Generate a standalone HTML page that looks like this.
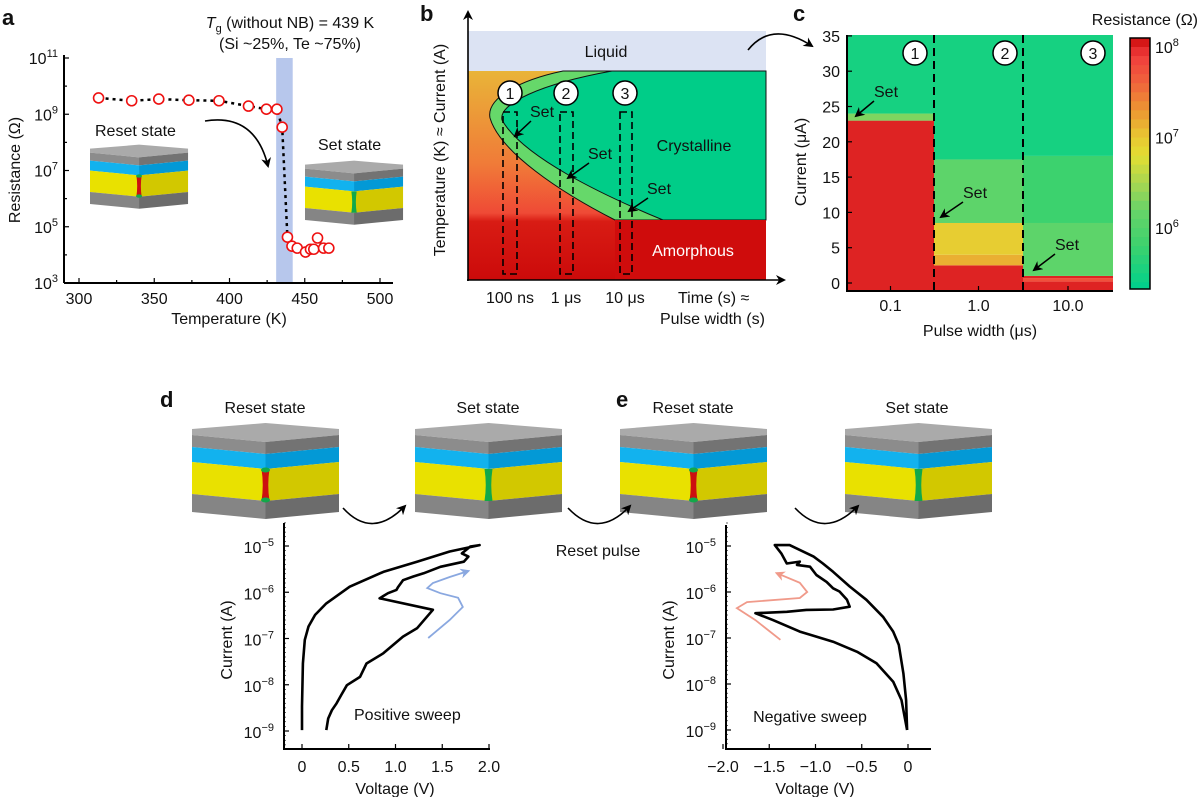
<!DOCTYPE html>
<html><head><meta charset="utf-8"><style>
html,body{margin:0;padding:0;background:#fff;}
svg{display:block;font-family:"Liberation Sans",Arial,sans-serif;}
</style></head><body>
<svg id="fig" width="1200" height="797" viewBox="0 0 1200 797" xmlns="http://www.w3.org/2000/svg">
<defs>
<marker id="ah" markerWidth="10" markerHeight="10" refX="8" refY="5" orient="auto" markerUnits="userSpaceOnUse"><path d="M0,0 L10,5 L0,10 L3,5Z" fill="#000"/></marker>
<marker id="ahb" markerWidth="10" markerHeight="10" refX="8" refY="5" orient="auto" markerUnits="userSpaceOnUse"><path d="M0,0 L10,5 L0,10 L3,5Z" fill="#8aa8e0"/></marker>
<marker id="ahp" markerWidth="10" markerHeight="10" refX="8" refY="5" orient="auto" markerUnits="userSpaceOnUse"><path d="M0,0 L10,5 L0,10 L3,5Z" fill="#f09a8a"/></marker>
<linearGradient id="gradB" x1="0" y1="71" x2="0" y2="280" gradientUnits="userSpaceOnUse">
<stop offset="0" stop-color="#e9b438"/><stop offset="0.45" stop-color="#f07a38"/><stop offset="0.68" stop-color="#ef4a36"/><stop offset="0.72" stop-color="#d81c14"/><stop offset="1" stop-color="#cc0a0a"/>
</linearGradient>
</defs>
</svg>
<script>
// ---------- data ----------
const aTemps=[313,335,353,373,393,412.6,424.5,431.5,435,438.5,441.5,445,450.5,453.8,456,458.5,462.5,466];
const aLogR=[9.58,9.48,9.54,9.5,9.48,9.29,9.18,9.18,8.54,4.63,4.31,4.24,4.1,4.2,4.2,4.6,4.24,4.24];
const aXTicks=[300,350,400,450,500];
const aYTicks=[3,5,7,9,11];

const cCats=['0.1','1.0','10.0'];
const cYTicks=[0,5,10,15,20,25,30,35];
// segments per column: [lowCurrent, highCurrent, log10 resistance]
const cSeg1=[[-1.1,23,8.0],[23,24,6.3],[24,35.3,5.5]];
const cSeg2=[[-1.1,2.5,8.0],[2.5,4,7.15],[4,8.5,6.95],[8.5,17.5,6.1],[17.5,35.3,5.5]];
const cSeg3=[[-1.1,0.2,8.0],[0.2,0.7,7.75],[0.7,1,8.0],[1,8.5,6.1],[8.5,18,5.8],[18,35.3,5.5]];
const cbTicks=[8,7,6];

const dV=[0,0,0.01,0.03,0.07,0.14,0.26,0.51,0.87,1.23,1.58,1.90,1.80,1.71,1.78,1.73,1.48,1.30,1.19,1.08,1.03,1.01,0.92,0.83,1.40,1.23,1.08,0.87,0.69,0.62,0.48,0.42,0.37,0.32,0.28,0.26];
const dLogI=[-8.98,-8.47,-7.54,-7.03,-6.74,-6.49,-6.24,-5.88,-5.56,-5.34,-5.12,-4.98,-5.01,-5.16,-5.23,-5.34,-5.45,-5.59,-5.66,-5.74,-5.88,-5.95,-6.02,-6.13,-6.38,-6.78,-6.96,-7.32,-7.54,-7.83,-8.01,-8.22,-8.40,-8.55,-8.73,-8.98];
const dArrowV=[1.35,1.58,1.72,1.67,1.48,1.34,1.40,1.58,1.78];
const dArrowI=[-6.99,-6.60,-6.32,-6.12,-6.02,-5.91,-5.80,-5.67,-5.54];
const dXTicks=[0,0.5,1.0,1.5,2.0];
const dXLabels=['0','0.5','1.0','1.5','2.0'];
const ivYTicks=[-5,-6,-7,-8,-9];

const eV=[-0.01,-0.02,-0.05,-0.10,-0.16,-0.27,-0.45,-0.63,-0.81,-0.92,-1.02,-1.28,-1.44,-1.37,-1.31,-1.17,-1.20,-1.06,-0.99,-0.88,-0.81,-0.74,-0.66,-0.63,-0.81,-1.10,-1.31,-1.65,-1.46,-1.17,-0.81,-0.55,-0.34,-0.16,-0.07,-0.01];
const eLogI=[-9.0,-8.35,-7.77,-7.15,-6.86,-6.54,-6.17,-5.88,-5.56,-5.38,-5.23,-4.98,-4.98,-5.16,-5.38,-5.34,-5.41,-5.45,-5.63,-5.78,-5.92,-5.99,-6.17,-6.32,-6.38,-6.39,-6.43,-6.46,-6.61,-6.86,-7.08,-7.30,-7.55,-7.95,-8.35,-9.0];
const eArrowV=[-1.38,-1.65,-1.85,-1.74,-1.17,-1.09,-1.17,-1.42];
const eArrowI=[-7.04,-6.61,-6.35,-6.22,-6.13,-6.0,-5.80,-5.59];
const eXTicks=[-2.0,-1.5,-1.0,-0.5,0];
const eXLabels=['\u22122.0','\u22121.5','\u22121.0','\u22120.5','0'];

// ---------- helpers ----------
const NS='http://www.w3.org/2000/svg';
const svg=document.getElementById('fig');
function el(tag,attrs,name,parent){
  const e=document.createElementNS(NS,tag);
  for(const k in attrs) e.setAttribute(k,attrs[k]);
  
  
  (parent||svg).appendChild(e);
  return e;
}
function txt(x,y,html,size,anchor,name,extra){
  const t=el('text',Object.assign({x:x,y:y,'font-size':size,'text-anchor':anchor||'start',fill:'#111'},extra||{}),name);
  t.innerHTML=html;
  return t;
}
function line(x1,y1,x2,y2,name,w,extra){
  return el('line',Object.assign({x1:x1,y1:y1,x2:x2,y2:y2,stroke:'#000','stroke-width':w||1.5},extra||{}),name);
}
function pathFrom(xs,ys,fx,fy){
  let d='';
  for(let i=0;i<xs.length;i++) d+=(i?'L':'M')+fx(xs[i]).toFixed(1)+','+fy(ys[i]).toFixed(1);
  return d;
}
function pow(base,exp){return base+'<tspan dy="-7" font-size="11">'+exp+'</tspan>';}

// device block
function device(x0,y0,s,state,name){
  const g=el('g',{transform:'translate('+x0+','+y0+') scale('+s+')'},name);
  const W=147,M=73.5,D=7;
  const b=[10,22,37,69,87];
  const lc=['#8c8c8c','#12b2ee','#e9e100','#858585'];
  const rc=['#737373','#0399d6','#d2c800','#6c6c6c'];
  el('polygon',{points:'0,10 '+M+','+(10+D)+' '+W+',10 '+W+',4 '+M+',-2 0,4',fill:'#aaaaaa'},'device-top-face',g);
  for(let i=0;i<4;i++){
    el('polygon',{points:'0,'+b[i]+' '+M+','+(b[i]+D)+' '+M+','+(b[i+1]+D)+' 0,'+b[i+1],fill:lc[i]},'device-layer-left',g);
    el('polygon',{points:M+','+(b[i]+D)+' '+W+','+b[i]+' '+W+','+b[i+1]+' '+M+','+(b[i+1]+D),fill:rc[i]},'device-layer-right',g);
  }
  const t=b[2]+D,bt=b[3]+D;
  const col=state==='reset'?'#cc1010':'#12a84a';
  el('path',{d:'M'+(M-4)+','+t+' Q'+(M-1.5)+','+((t+bt)/2)+' '+(M-4)+','+bt+' L'+(M+4)+','+bt+' Q'+(M+1.5)+','+((t+bt)/2)+' '+(M+4)+','+t+'Z',fill:col},'filament',g);
  if(state==='reset'){
    el('ellipse',{cx:M,cy:t+1,rx:4.5,ry:2.5,fill:'#12a84a'},'filament-cap-top',g);
    el('ellipse',{cx:M,cy:bt-1,rx:4.5,ry:2.5,fill:'#12a84a'},'filament-cap-bottom',g);
  }
  return g;
}

// ---------- panel letters ----------
txt(2,25,'a',22,'start','panel-label-a',{'font-weight':'bold'});
txt(420,21,'b',22,'start','panel-label-b',{'font-weight':'bold'});
txt(793,21,'c',22,'start','panel-label-c',{'font-weight':'bold'});
txt(160,407,'d',22,'start','panel-label-d',{'font-weight':'bold'});
txt(616,407,'e',22,'start','panel-label-e',{'font-weight':'bold'});

// ---------- panel a ----------
const xA=T=>79+(T-300)*301/200;
const yA=l=>283-(l-3)*28.125;
el('rect',{x:xA(431),y:58,width:xA(442)-xA(431),height:225,fill:'#b7c7ec'},'tg-band');
line(64,55,64,283,'a-y-axis',2);
line(64,283,393,283,'a-x-axis',2);
for(let l=3;l<=11;l++){ line(64,yA(l),64+(l%2?5:3),yA(l),'a-y-tick',1.2); }
aYTicks.forEach(l=>txt(58,yA(l)+6,pow('10',l),16,'end','a-y-tick-label'));
for(let T=300;T<=500;T+=25){ line(xA(T),283,xA(T),283-(T%50?3:5),'a-x-tick',1.2); }
aXTicks.forEach(T=>txt(xA(T),304,String(T),16,'middle','a-x-tick-label'));
txt(229,324,'Temperature (K)',16,'middle','a-x-axis-title');
txt(20,170,'Resistance (\u03a9)',16,'middle','a-y-axis-title',{transform:'rotate(-90 20 170)'});
el('path',{d:pathFrom(aTemps,aLogR,xA,yA),fill:'none',stroke:'#000','stroke-width':2.5,'stroke-dasharray':'3,4'},'a-dotted-line');
aTemps.forEach((T,i)=>{
  el('circle',{cx:xA(T),cy:yA(aLogR[i]),r:5,fill:'#fff',stroke:'#ee1111','stroke-width':1.6},'a-data-point');
});
txt(290,28,'<tspan font-style="italic">T</tspan><tspan dy="4" font-size="11">g</tspan><tspan dy="-4"> (without NB) = 439 K</tspan>',16,'middle','a-title-line1');
txt(290,49,'(Si ~25%, Te ~75%)',16,'middle','a-title-line2');
txt(95,136,'Reset state',16,'start','a-reset-label');
txt(318,150,'Set state',16,'start','a-set-label');
device(90,146,0.667,'reset','a-reset-device');
device(305,162,0.667,'set','a-set-device');
el('path',{d:'M205,121 Q255,113 268,166',fill:'none',stroke:'#000','stroke-width':1.6,'marker-end':'url(#ah)'},'a-transition-arrow');

// ---------- panel b ----------
el('rect',{x:468,y:31,width:298,height:40,fill:'#dce3f3'},'b-liquid-region');
el('rect',{x:468,y:71,width:298,height:209,fill:'url(#gradB)'},'b-amorphous-gradient');
el('path',{d:'M563,71 L766,71 L766,220 L615,220 C560,192 500,152 490,118 C486,98 520,80 563,71Z',fill:'#66d86a',stroke:'#111','stroke-width':1},'b-set-band');
el('path',{d:'M612,71 L766,71 L766,220 L663,220 C600,194 522,156 502,120 C498,104 540,84 612,71Z',fill:'#00cd88',stroke:'#111','stroke-width':1},'b-crystalline-region');
el('rect',{x:615,y:220,width:151,height:60,fill:'#cf0c0c'},'b-amorphous-region');
txt(606,57,'Liquid',16,'middle','b-liquid-label');
txt(694,151,'Crystalline',16,'middle','b-crystalline-label');
txt(693,256,'Amorphous',16,'middle','b-amorphous-label',{fill:'#fff'});
[[503,14],[560,13],[620,12]].forEach((r,i)=>{
  el('rect',{x:r[0],y:112,width:r[1],height:162,fill:'none',stroke:'#000','stroke-width':1.6,'stroke-dasharray':'7,4'},'b-pulse-box-'+(i+1));
});
[[510,93],[566,93],[625,93]].forEach((c,i)=>{
  el('circle',{cx:c[0],cy:c[1],r:12,fill:'#fff',stroke:'#000','stroke-width':1.5},'b-condition-marker-'+(i+1));
  txt(c[0],c[1]+6,String(i+1),16,'middle','b-condition-number');
});
[[528,121,515,136],[586,163,568,178],[645,198,629,211]].forEach(a=>{
  txt(a[0]+2,a[1]-4,'Set',16,'start','b-set-label');
  el('line',{x1:a[0]+3,y1:a[1],x2:a[2],y2:a[3],stroke:'#000','stroke-width':1.5,'marker-end':'url(#ah)'},'b-set-arrow');
});
el('line',{x1:468,y1:281,x2:468,y2:12,stroke:'#000','stroke-width':1.6,'marker-end':'url(#ah)'},'b-y-axis');
el('line',{x1:467,y1:280,x2:784,y2:280,stroke:'#000','stroke-width':1.6,'marker-end':'url(#ah)'},'b-x-axis');
txt(510,303,'100 ns',16,'middle','b-tick-100ns');
txt(566,303,'1 \u03bcs',16,'middle','b-tick-1us');
txt(625,303,'10 \u03bcs',16,'middle','b-tick-10us');
txt(678,303,'Time (s) \u2248',16,'start','b-x-title-1');
txt(660,324,'Pulse width (s)',16,'start','b-x-title-2');
txt(445,150,'Temperature (K) \u2248 Current (A)',16,'middle','b-y-axis-title',{transform:'rotate(-90 445 150)'});
el('path',{d:'M748,50 Q772,20 812,46',fill:'none',stroke:'#000','stroke-width':1.6,'marker-end':'url(#ah)'},'b-to-c-arrow');

// ---------- panel c ----------
const yC=v=>283-v*7.06;
const colW=[87,89,90];
const colX=[847,934,1023];
const cbStops=[[8.1,[204,10,10]],[7.9,[240,60,60]],[7.6,[240,100,60]],[7.3,[236,150,50]],[7.0,[232,200,50]],[6.8,[226,222,50]],[6.5,[170,214,80]],[6.2,[104,212,104]],[5.8,[60,210,110]],[5.33,[0,208,140]]];
function cmap(l){
  if(l>=cbStops[0][0]) return 'rgb('+cbStops[0][1]+')';
  for(let i=0;i<cbStops.length-1;i++){
    const a=cbStops[i],b=cbStops[i+1];
    if(l<=a[0]&&l>=b[0]){const t=(a[0]-l)/(a[0]-b[0]);return 'rgb('+a[1].map((v,k)=>Math.round(v+(b[1][k]-v)*t)).join(',')+')';}
  }
  return 'rgb('+cbStops[cbStops.length-1][1]+')';
}
[cSeg1,cSeg2,cSeg3].forEach((segs,ci)=>{
  segs.forEach(s=>{
    const y1=Math.max(35,yC(s[1])),y2=Math.min(291,yC(s[0]));
    el('rect',{x:colX[ci],y:y1,width:colW[ci],height:y2-y1,fill:cmap(s[2])},'c-heatmap-cell');
  });
});
line(934,35,934,291,'c-divider-1',2,{'stroke-dasharray':'8,5'});
line(1023,35,1023,291,'c-divider-2',2,{'stroke-dasharray':'8,5'});
line(847,35,847,292,'c-y-axis',2);
line(846,291,1113,291,'c-x-axis',2);
cYTicks.forEach(v=>{line(847,yC(v),852,yC(v),'c-y-tick',1.2);txt(840,yC(v)+6,String(v),16,'end','c-y-tick-label');});
cCats.forEach((c,i)=>{const x=colX[i]+colW[i]/2;line(x,291,x,286,'c-x-tick',1.2);txt(x,311,c,16,'middle','c-x-tick-label');});
txt(980,336,'Pulse width (\u03bcs)',16,'middle','c-x-axis-title');
txt(806,162,'Current (\u03bcA)',16,'middle','c-y-axis-title',{transform:'rotate(-90 806 162)'});
[[915,53],[1005,53],[1093,53]].forEach((c,i)=>{
  el('circle',{cx:c[0],cy:c[1],r:12,fill:'#fff',stroke:'#000','stroke-width':1.5},'c-condition-marker-'+(i+1));
  txt(c[0],c[1]+6,String(i+1),16,'middle','c-condition-number');
});
[[872,100,856,116],[961,201,941,217],[1053,253,1034,270]].forEach(a=>{
  txt(a[0]+2,a[1]-3,'Set',16,'start','c-set-label');
  el('line',{x1:a[0]+2,y1:a[1]+1,x2:a[2],y2:a[3],stroke:'#000','stroke-width':1.5,'marker-end':'url(#ah)'},'c-set-arrow');
});
// colorbar
const yCB=l=>47+(8-l)*90.5;
for(let l=8.1;l>5.33;l-=0.1){
  const y1=Math.max(38,yCB(l)),y2=Math.min(289,yCB(l-0.1)+0.6);
  el('rect',{x:1130,y:y1,width:20,height:y2-y1,fill:cmap(l-0.05)},'colorbar-band');
}
el('rect',{x:1130,y:38,width:20,height:251,fill:'none',stroke:'#000','stroke-width':1.5},'colorbar-frame');
cbTicks.forEach(l=>txt(1155,yCB(l)+6,pow('10',l),16,'start','colorbar-tick-label'));
txt(1198,25,'Resistance (\u03a9)',16,'end','colorbar-title');

// ---------- devices d/e ----------
txt(265,413,'Reset state',16,'middle','d-reset-label');
txt(488,413,'Set state',16,'middle','d-set-label');
txt(693,413,'Reset state',16,'middle','e-reset-label');
txt(917,413,'Set state',16,'middle','e-set-label');
device(192,425,1,'reset','d-reset-device');
device(415,425,1,'set','d-set-device');
device(620,425,1,'reset','e-reset-device');
device(845,425,1,'set','e-set-device');
[['M343,508 Q372,540 405,506','d-transition-arrow'],['M568,508 Q598,540 630,506','reset-pulse-arrow'],['M795,508 Q825,540 858,506','e-transition-arrow']].forEach(a=>{
  el('path',{d:a[0],fill:'none',stroke:'#000','stroke-width':1.6,'marker-end':'url(#ah)'},a[1]);
});
txt(598,556,'Reset pulse',16,'middle','reset-pulse-label');

// ---------- panel d ----------
const xD=v=>302+v*93.5;
const yD=l=>546-(l+5)*46.25;
line(284,523,284,750,'d-y-axis',2);
line(283,749,490,749,'d-x-axis',2);
for(let l=-9.3;l<=-4.5;l+=0.1){line(284,yD(l),286,yD(l),'d-y-minor-tick',0.6);}
ivYTicks.forEach(l=>{line(284,yD(l),289,yD(l),'d-y-tick',1.2);txt(274,yD(l)+7,pow('10','\u2212'+(-l)),16,'end','d-y-tick-label');});
dXTicks.forEach((v,i)=>{line(xD(v),749,xD(v),744,'d-x-tick',1.2);txt(xD(v),772,dXLabels[i],16,'middle','d-x-tick-label');});
txt(395,794,'Voltage (V)',16,'middle','d-x-axis-title');
txt(232,640,'Current (A)',16,'middle','d-y-axis-title',{transform:'rotate(-90 232 640)'});
el('path',{d:pathFrom(dV,dLogI,xD,yD),fill:'none',stroke:'#000','stroke-width':2.6,'stroke-linejoin':'round'},'d-iv-curve');
el('path',{d:pathFrom(dArrowV,dArrowI,xD,yD),fill:'none',stroke:'#8aa8e0','stroke-width':1.8,'marker-end':'url(#ahb)'},'d-sweep-direction-arrow');
txt(354,720,'Positive sweep',16,'start','d-sweep-label');

// ---------- panel e ----------
const xE=v=>908+v*92.5;
const yE=l=>546-(l+5)*46;
line(726,525,726,750,'e-y-axis',2);
line(725,749,931,749,'e-x-axis',2);
for(let l=-9.3;l<=-4.5;l+=0.1){line(726,yE(l),728,yE(l),'e-y-minor-tick',0.6);}
ivYTicks.forEach(l=>{line(726,yE(l),731,yE(l),'e-y-tick',1.2);txt(716,yE(l)+7,pow('10','\u2212'+(-l)),16,'end','e-y-tick-label');});
eXTicks.forEach((v,i)=>{line(xE(v),749,xE(v),744,'e-x-tick',1.2);txt(xE(v),772,eXLabels[i],16,'middle','e-x-tick-label');});
txt(815,794,'Voltage (V)',16,'middle','e-x-axis-title');
txt(674,640,'Current (A)',16,'middle','e-y-axis-title',{transform:'rotate(-90 674 640)'});
el('path',{d:pathFrom(eV,eLogI,xE,yE),fill:'none',stroke:'#000','stroke-width':2.6,'stroke-linejoin':'round'},'e-iv-curve');
el('path',{d:pathFrom(eArrowV,eArrowI,xE,yE),fill:'none',stroke:'#f09a8a','stroke-width':1.8,'marker-end':'url(#ahp)'},'e-sweep-direction-arrow');
txt(810,722,'Negative sweep',16,'middle','e-sweep-label');
</script>
</body></html>
